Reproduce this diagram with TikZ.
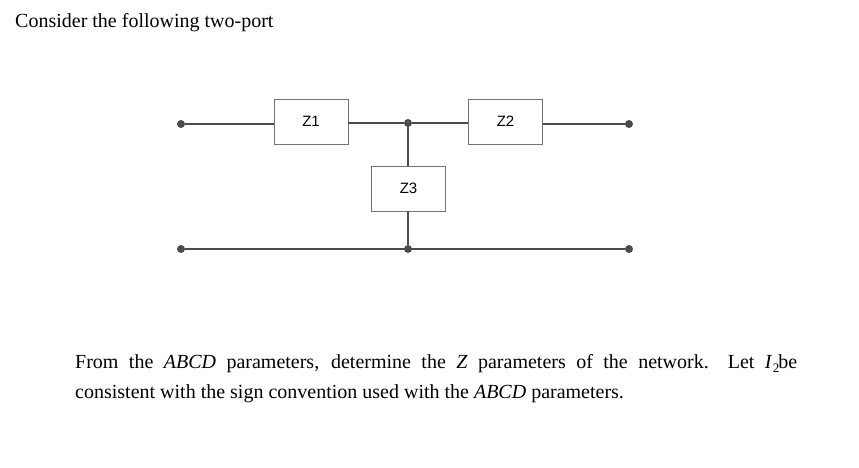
\documentclass[tikz,border=0pt]{standalone}
\usepackage{fontspec}
\setmainfont{Liberation Serif}
\newfontfamily\boxfont{Liberation Sans}
\begin{document}
\begin{tikzpicture}[x=1pt,y=-1pt,
  wire/.style={draw=black!70,line width=1.1pt},
  zbox/.style={draw=black!55,line width=0.6pt,fill=white,minimum width=74pt,minimum height=45pt,inner sep=0pt,font=\boxfont\fontsize{15}{17}\selectfont},
  term/.style={circle,fill=black!70,inner sep=0pt,minimum size=8pt},
  txt/.style={anchor=base west,inner sep=0pt,font=\fontsize{20}{24}\selectfont}]
\useasboundingbox (0,0) rectangle (859,468);
\node[txt] (t1) at (15,28) {Consider the following two-port};
\node[term] (a) at (181,124) {};
\node[term] (b) at (629,124) {};
\node[term] (c) at (181,249) {};
\node[term] (d) at (629,249) {};
\node[term] (j1) at (408,123) {};
\node[term] (j2) at (408,249) {};
\node[zbox] (z1) at (311,121.5) {Z1};
\node[zbox] (z2) at (505.5,121.5) {Z2};
\node[zbox] (z3) at (408.5,188.5) {Z3};
\draw[wire] (a) -- (z1.west |- a);
\draw[wire] (z1.east |- j1) -- (j1) -- (z2.west |- j1);
\draw[wire] (z2.east |- b) -- (b);
\draw[wire] (j1) -- (z3.north -| j1);
\draw[wire] (z3.south -| j2) -- (j2);
\draw[wire] (c) -- (d);
\node[txt] (t2) at (75,368) {\makebox[722pt][s]{From the \textit{ABCD} parameters, determine the \textit{Z} parameters of the network.\hspace{-0.2em} Let \textit{I}\kern0.5pt\raisebox{-4pt}{\fontsize{13}{14}\selectfont 2}\kern-1pt be}};
\node[txt] (t3) at (75,398) {consistent with the sign convention used with the \textit{ABCD} parameters.};
\end{tikzpicture}
\end{document}
